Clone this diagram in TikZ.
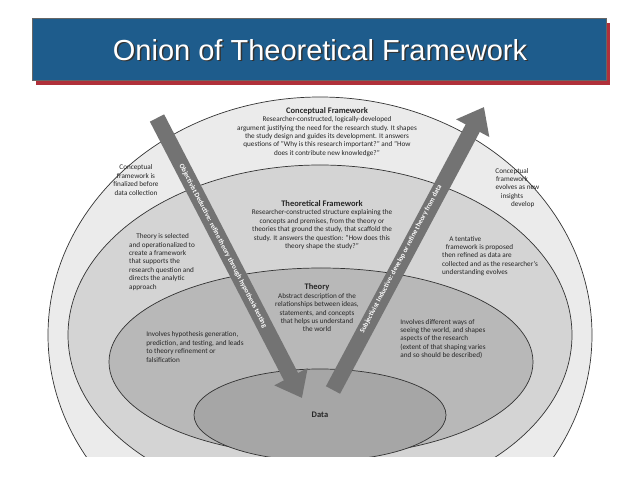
\documentclass[tikz,border=0pt]{standalone}
\usepackage{fontspec}
\setmainfont{Carlito}
\newfontfamily\titlefont{Liberation Sans}
\usetikzlibrary{arrows.meta}
\definecolor{titleblue}{HTML}{1E5C8C}
\definecolor{shadowred}{HTML}{B0303A}
\begin{document}
\begin{tikzpicture}[x=1pt,y=-1pt,
  lbl/.style={font=\fontsize{7.2}{8.4}\selectfont, text=black!85, align=center, inner sep=1pt},
  ring/.style={draw=black!80, line width=0.7pt},
  fatarrow/.style={line width=16pt, draw=black!55, -{Triangle[width=36pt,length=24pt]}},
  arrtxt/.style={font=\fontsize{7}{8}\selectfont\bfseries, text=white, inner sep=0pt},
  ttl/.style={font=\titlefont\fontsize{29}{32}\selectfont}]
\useasboundingbox (0,0) rectangle (638,478);
% title
\fill[shadowred] (36,23) rectangle (610,85);
\fill[titleblue] (32,18) rectangle (606,80);
\draw[black!60, line width=0.6pt] (32,18) rectangle (606,80);
\node[ttl, text=black!80] at (321.5,51.5) {Onion of Theoretical Framework};
\node[ttl, text=white] (title) at (320,50) {Onion of Theoretical Framework};
% onion
\begin{scope}
\clip (40,95) rectangle (600,457);
\filldraw[ring, fill=black!8] (320,335) ellipse [x radius=272, y radius=238];
\filldraw[ring, fill=black!17] (320,335) ellipse [x radius=252, y radius=170];
\filldraw[ring, fill=black!28] (321,362) ellipse [x radius=212, y radius=94];
\filldraw[ring, fill=black!35] (320,415) ellipse [x radius=126, y radius=46];
\end{scope}
% texts
\node[lbl] (cf) at (327,132) {{\bfseries\fontsize{8.5}{10}\selectfont Conceptual Framework}\\Researcher-constructed, logically-developed\\argument justifying the need for the research study. It shapes\\the study design and guides its development. It answers\\questions of "Why is this research important?" and "How\\does it contribute new knowledge?"};
\node[lbl] (tf) at (322,225) {{\bfseries\fontsize{8.5}{10}\selectfont Theoretical Framework}\\Researcher-constructed structure explaining the\\concepts and premises, from the theory or\\theories that ground the study, that scaffold the\\study. It answers the question: "How does this\\theory shape the study?"};
\node[lbl] (th) at (317,308) {{\bfseries\fontsize{8.5}{10}\selectfont Theory}\\Abstract description of the\\relationships between ideas,\\statements, and concepts\\that helps us understand\\the world};
\node[font=\fontsize{8.5}{10}\selectfont\bfseries, text=black!85] (data) at (320,415) {Data};
\node[lbl] (l1) at (136,180) {Conceptual\\framework is\\finalized before\\data collection};
\node[lbl, align=left] (l2) at (162,262) {\hspace*{1em}Theory is selected\\and operationalized to\\create a framework\\that supports the\\research question and\\directs the analytic\\approach};
\node[lbl, align=left] (l3) at (195,347) {Involves hypothesis generation,\\prediction, and testing, and leads\\to theory refinement or\\falsification};
\node[lbl] (r1) at (512,188) {Conceptual\\framework\\\hspace*{1.5em}evolves as new\\insights\\\hspace*{3em}develop};
\node[lbl, align=left] (r2) at (490,256) {\hspace*{1em}A tentative\\\hspace*{0.5em}framework is proposed\\then refined as data are\\collected and as the researcher's\\understanding evolves};
\node[lbl, align=left] (r3) at (443,339) {Involves different ways of\\seeing the world, and shapes\\aspects of the research\\(extent of that shaping varies\\and so should be described)};
% arrows
\coordinate (la) at (157,118);
\coordinate (lb) at (302,398);
\coordinate (ra) at (333,390);
\coordinate (rb) at (484,107);
\draw[fatarrow] (la) -- (lb);
\draw[fatarrow] (ra) -- (rb);
\node[arrtxt, rotate=-62.6] (lt) at (223,246) {Objectivist Deductive: refine theory through hypothesis testing};
\node[arrtxt, rotate=62] (rt) at (401,259) {Subjectivist Inductive: develop or refine theory from data};
\end{tikzpicture}
\end{document}
